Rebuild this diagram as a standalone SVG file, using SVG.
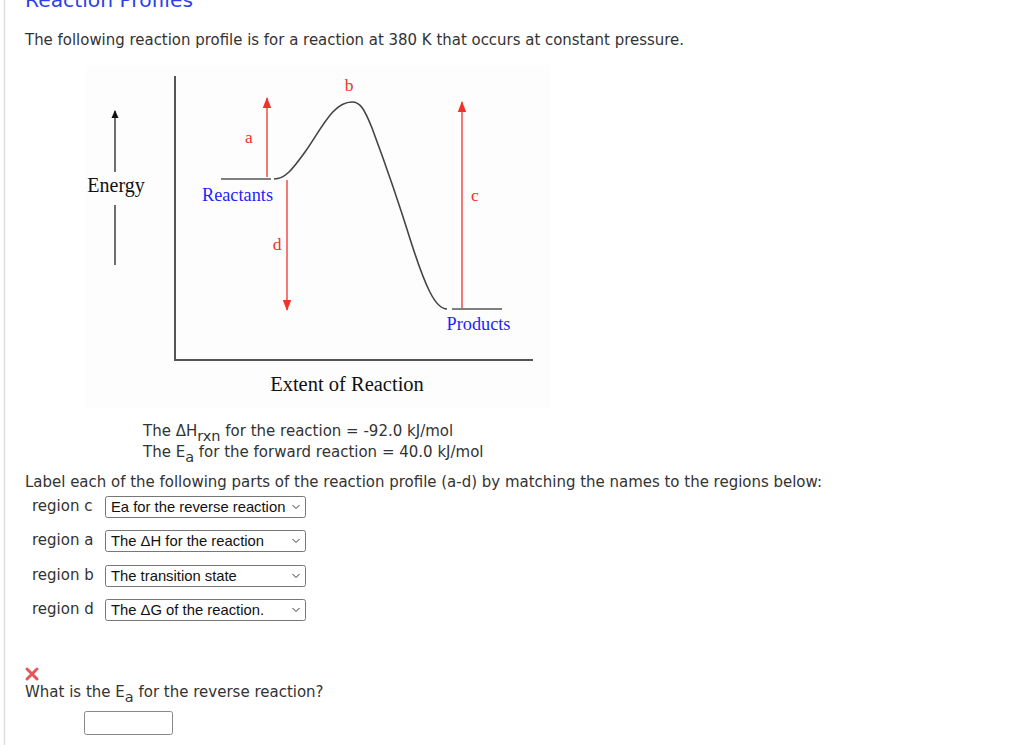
<svg xmlns="http://www.w3.org/2000/svg" width="1024" height="745" viewBox="0 0 1024 745">
<defs>
<style>
.body{font-family:"DejaVu Sans",Verdana,sans-serif;font-size:15px;fill:#333}
.serif{font-family:"Liberation Serif","Times New Roman",serif}
.red{fill:#f0322b}
.blue{fill:#1f1fff}
.sel{font-family:"Liberation Sans",Arial,sans-serif;font-size:14.8px;fill:#111}
.box{fill:#fff;stroke:#777;stroke-width:1}
.chev{fill:none;stroke:#333;stroke-width:1}
.curve{fill:none;stroke:#444;stroke-width:1.6}
.axis{fill:none;stroke:#555;stroke-width:2}
.rline{stroke:#f0322b;stroke-width:1.3}
</style>
<marker id="redhead" markerWidth="11" markerHeight="10" refX="10" refY="5" orient="auto" markerUnits="userSpaceOnUse" viewBox="0 0 11 10">
<path d="M0,0.8 L11,5 L0,9.2 z" fill="#f0322b"/>
</marker>
<marker id="blackhead" markerWidth="8" markerHeight="10" refX="7" refY="5" orient="auto" markerUnits="userSpaceOnUse" viewBox="0 0 8 10">
<path d="M0,1.5 L8,5 L0,8.5 z" fill="#111"/>
</marker>
</defs>
<rect width="1024" height="745" fill="#fff"/>
<line x1="4.5" y1="0" x2="4.5" y2="745" stroke="#ddd" stroke-width="1.5"/>
<text x="25" y="7" font-family="DejaVu Sans,Verdana,sans-serif" font-size="20" fill="#2c3fe8" textLength="168" lengthAdjust="spacingAndGlyphs">Reaction Profiles</text>
<text class="body" x="25" y="45" textLength="659" lengthAdjust="spacingAndGlyphs">The following reaction profile is for a reaction at 380 K that occurs at constant pressure.</text>

<g id="profile">
<rect x="85" y="65" width="465" height="343" fill="#fdfdfd"/>
<g id="energy-axis-label">
<line x1="115" y1="172" x2="115" y2="111" stroke="#222" stroke-width="1.3" marker-end="url(#blackhead)"/>
<line x1="115" y1="205" x2="115" y2="265" stroke="#222" stroke-width="1.3"/>
<text class="serif" x="116" y="192" font-size="20" fill="#111" text-anchor="middle">Energy</text>
</g>
<g id="axes">
<polyline class="axis" points="175,76 175,360 533,360"/>
<text class="serif" x="347" y="391" font-size="20.5" fill="#111" text-anchor="middle">Extent of Reaction</text>
</g>
<g id="reactants">
<line x1="221" y1="179" x2="271" y2="179" stroke="#555" stroke-width="1.6"/>
<text class="serif blue" x="237.5" y="201" font-size="18.3" text-anchor="middle">Reactants</text>
</g>
<g id="products">
<line x1="452" y1="309" x2="502" y2="309" stroke="#555" stroke-width="1.6"/>
<text class="serif blue" x="478.5" y="330" font-size="18.3" text-anchor="middle">Products</text>
</g>
<g id="curve">
<path class="curve" d="M274,179 C285,179 292,170 305,152 C322,128 333,102 352,102 C360,102 364,108 372,128 C384,160 398,200 412,245 C425,285 435,309 447,309"/>
</g>
<g id="connectors">
<line class="rline" x1="267" y1="177" x2="267" y2="98" marker-end="url(#redhead)"/>
<line class="rline" x1="287" y1="180" x2="287" y2="310" marker-end="url(#redhead)"/>
<line class="rline" x1="462" y1="308" x2="462" y2="102" marker-end="url(#redhead)"/>
</g>
<g id="label-a"><text class="serif red" x="249" y="143" font-size="17.5" text-anchor="middle">a</text></g>
<g id="label-b"><text class="serif red" x="349" y="91" font-size="17.5" text-anchor="middle">b</text></g>
<g id="label-c"><text class="serif red" x="475" y="201" font-size="17.5" text-anchor="middle">c</text></g>
<g id="label-d"><text class="serif red" x="277" y="250" font-size="17.5" text-anchor="middle">d</text></g>
</g>

<g id="data">
<text class="body" x="143" y="436">The ΔH<tspan font-size="14.5" dy="5">rxn</tspan><tspan dy="-5"> for the reaction = -92.0 kJ/mol</tspan></text>
<text class="body" x="143" y="457">The E<tspan font-size="14.5" dy="5">a</tspan><tspan dy="-5"> for the forward reaction = 40.0 kJ/mol</tspan></text>
<text class="body" x="25" y="487" textLength="797" lengthAdjust="spacingAndGlyphs">Label each of the following parts of the reaction profile (a-d) by matching the names to the regions below:</text>
</g>

<g id="row-c">
<text class="body" x="32" y="511">region c</text>
<rect class="box" x="105.5" y="496.5" width="200" height="21" rx="2"/>
<text class="sel" x="111" y="512">Ea for the reverse reaction</text>
<polyline class="chev" points="292.5,505 296,508.5 299.5,505"/>
</g>
<g id="row-a">
<text class="body" x="32" y="545">region a</text>
<rect class="box" x="105.5" y="530.5" width="200" height="21" rx="2"/>
<text class="sel" x="111" y="546">The ΔH for the reaction</text>
<polyline class="chev" points="292.5,539 296,542.5 299.5,539"/>
</g>
<g id="row-b">
<text class="body" x="32" y="580">region b</text>
<rect class="box" x="105.5" y="565.5" width="200" height="21" rx="2"/>
<text class="sel" x="111" y="581">The transition state</text>
<polyline class="chev" points="292.5,574 296,577.5 299.5,574"/>
</g>
<g id="row-d">
<text class="body" x="32" y="614">region d</text>
<rect class="box" x="105.5" y="599.5" width="200" height="21" rx="2"/>
<text class="sel" x="111" y="615">The ΔG of the reaction.</text>
<polyline class="chev" points="292.5,608 296,611.5 299.5,608"/>
</g>

<g id="question">
<path d="M27,669 L37,679 M37,669 L27,679" stroke="#e85555" stroke-width="3" stroke-linecap="round"/>
<text class="body" x="25" y="697">What is the E<tspan font-size="14.5" dy="5">a</tspan><tspan dy="-5"> for the reverse reaction?</tspan></text>
<rect x="84.5" y="711.5" width="88" height="23" rx="2" fill="#fff" stroke="#888"/>
</g>
</svg>
